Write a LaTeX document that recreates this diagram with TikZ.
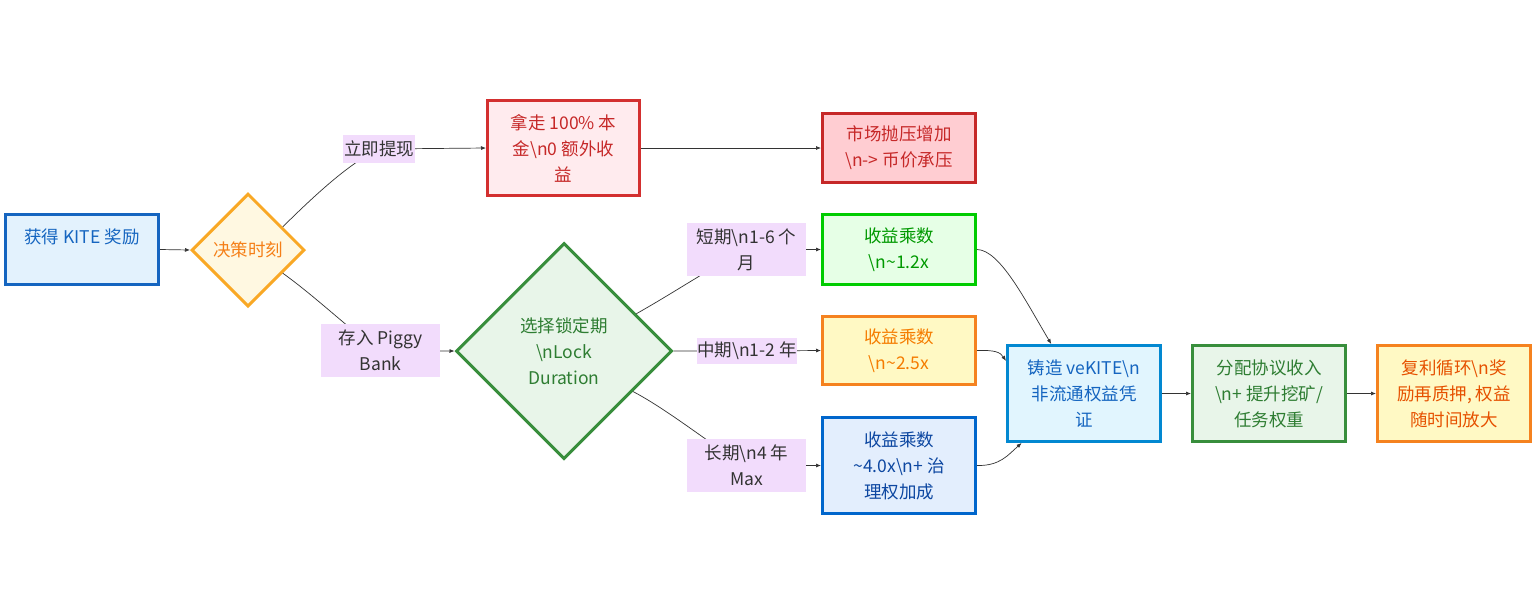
\documentclass[tikz,border=0pt]{standalone}
\usepackage{fontspec}
\setmainfont{Noto Sans CJK SC}
\usetikzlibrary{shapes.geometric,arrows.meta,calc}
\definecolor{edgec}{HTML}{333333}
\definecolor{lblbg}{HTML}{F2DCFC}
\definecolor{lbltxt}{HTML}{333333}
\definecolor{aFill}{HTML}{E3F2FD}\definecolor{aDraw}{HTML}{1565C0}
\definecolor{dFill}{HTML}{FFF8E1}\definecolor{dDraw}{HTML}{F9A825}\definecolor{dTxt}{HTML}{F57F17}
\definecolor{bFill}{HTML}{FFEBEE}\definecolor{bDraw}{HTML}{D32F2F}\definecolor{bTxt}{HTML}{C62828}
\definecolor{cFill}{HTML}{FFCDD2}\definecolor{cDraw}{HTML}{C62828}\definecolor{cTxt}{HTML}{C62828}
\definecolor{gFill}{HTML}{E8F5E9}\definecolor{gDraw}{HTML}{388E3C}\definecolor{gTxt}{HTML}{2E7D32}
\definecolor{e1Fill}{HTML}{E6FFE6}\definecolor{e1Draw}{HTML}{00CC00}\definecolor{e1Txt}{HTML}{009900}
\definecolor{yFill}{HTML}{FFF9C4}\definecolor{yDraw}{HTML}{F5821F}\definecolor{yTxt}{HTML}{F57C00}
\definecolor{e3Fill}{HTML}{E3EEFD}\definecolor{e3Draw}{HTML}{0066CC}\definecolor{e3Txt}{HTML}{0D47A1}
\definecolor{fFill}{HTML}{E1F5FE}\definecolor{fDraw}{HTML}{0288D1}\definecolor{fTxt}{HTML}{1565C0}
\definecolor{hTxt}{HTML}{E65100}
\begin{document}
\begin{tikzpicture}[x=1pt,y=-1pt,
  every node/.style={font=\fontsize{17.5}{26}\selectfont},
  box/.style={draw, rectangle, line width=3pt, inner sep=0pt, align=center, minimum width=153pt},
  dia/.style={draw, diamond, aspect=1, line width=3pt, inner sep=0pt, align=center},
  lbl/.style={fill=lblbg, text=lbltxt, inner sep=0pt, align=center, minimum height=26pt},
  conn/.style={draw=edgec, line width=0.7pt, -{Latex[length=5pt,width=4pt]}}]
\useasboundingbox (0,0) rectangle (1536,614);
\fill[white] (0,0) rectangle (1536,614);
% nodes
\node[box, fill=aFill, draw=aDraw, text=aDraw, minimum height=70pt] (a) at (82,249.5) {获得 KITE 奖励\\ \mbox{}};
\node[dia, fill=dFill, draw=dDraw, text=dTxt, minimum width=113pt, minimum height=113pt] (d1) at (248,250) {决策时刻};
\node[box, fill=bFill, draw=bDraw, text=bTxt, minimum width=152pt, minimum height=95pt] (b) at (563.5,148) {拿走 100\% 本\\金\textbackslash n0 额外收\\益};
\node[box, fill=cFill, draw=cDraw, text=cTxt, minimum height=69pt] (c) at (899,148) {市场抛压增加\\\textbackslash n-> 币价承压};
\node[dia, fill=gFill, draw=gDraw, text=gTxt, minimum width=216pt, minimum height=216pt] (d2) at (564,351) {选择锁定期\\\textbackslash nLock\\Duration};
\node[box, fill=e1Fill, draw=e1Draw, text=e1Txt, minimum height=70pt] (e1) at (899,249.5) {收益乘数\\\textbackslash n\textasciitilde 1.2x};
\node[box, fill=yFill, draw=yDraw, text=yTxt, minimum height=68pt] (e2) at (899,350.5) {收益乘数\\\textbackslash n\textasciitilde 2.5x};
\node[box, fill=e3Fill, draw=e3Draw, text=e3Txt, minimum height=96pt] (e3) at (899,465.5) {收益乘数\\\textasciitilde 4.0x\textbackslash n+ 治\\理权加成};
\node[box, fill=fFill, draw=fDraw, text=fTxt, minimum height=96pt] (f) at (1084,393.5) {铸造 veKITE\textbackslash n\\非流通权益凭\\证};
\node[box, fill=gFill, draw=gDraw, text=gTxt, minimum height=96pt] (g) at (1269,393.5) {分配协议收入\\\textbackslash n+ 提升挖矿/\\任务权重};
\node[box, fill=yFill, draw=yDraw, text=hTxt, minimum height=96pt] (h) at (1454,393.5) {复利循环\textbackslash n奖\\励再质押, 权益\\随时间放大};
% label positions
\coordinate (l1) at (379,149);
\coordinate (l2) at (380.5,350.5);
\coordinate (l3) at (746.5,249.5);
\coordinate (l4) at (747,351);
\coordinate (l5) at (746.5,465.5);
% connectors
\draw[conn] (a.east) -- (d1.west);
\draw[conn] ($(d1.east)!0.4!(d1.north)$) .. controls (322,188) and (352,162) .. (l1) -- (b.west);
\draw[conn] ($(d1.east)!0.4!(d1.south)$) .. controls (320,300) and (355,335) .. (l2) -- (d2.west);
\draw[conn] ($(d2.east)!0.34!(d2.north)$) .. controls (675,292) and (720,262) .. (l3) -- (e1.west);
\draw[conn] (d2.east) -- (l4) -- (e2.west);
\draw[conn] ($(d2.east)!0.37!(d2.south)$) .. controls (672,412) and (720,452) .. (l5) -- (e3.west);
\draw[conn] (b.east) -- (c.west);
\draw[conn] (e1.east) .. controls (1000,250) and (1025,300) .. ($(f.north west)!0.29!(f.north east)$);
\draw[conn] (e2.east) .. controls (995,350) and (1000,352) .. ($(f.north west)!0.17!(f.south west)$);
\draw[conn] (e3.east) .. controls (1000,466) and (1008,455) .. ($(f.south west)!0.1!(f.south east)$);
\draw[conn] (f.east) -- (g.west);
\draw[conn] (g.east) -- (h.west);
% edge labels
\node[lbl, minimum width=72pt, minimum height=28pt] (lab1) at (l1) {立即提现};
\node[lbl, minimum width=119pt, minimum height=53pt] (lab2) at (l2) {存入 Piggy\\Bank};
\node[lbl, minimum width=119pt, minimum height=53pt] (lab3) at (l3) {短期\textbackslash n1-6 个\\月};
\node[lbl, minimum width=100pt, minimum height=26pt] (lab4) at (l4) {中期\textbackslash n1-2 年};
\node[lbl, minimum width=119pt, minimum height=53pt] (lab5) at (l5) {长期\textbackslash n4 年\\Max};
\end{tikzpicture}
\end{document}
